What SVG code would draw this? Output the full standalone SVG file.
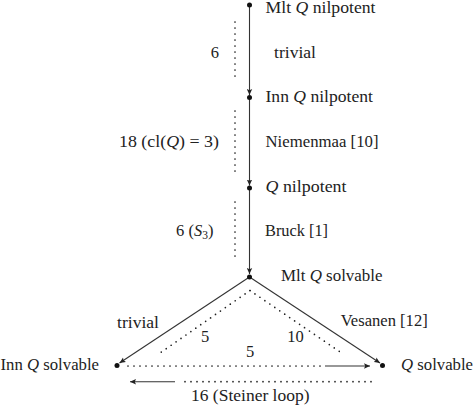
<svg xmlns="http://www.w3.org/2000/svg" width="474" height="405" viewBox="0 0 474 405">
<style>
text{font-family:"Liberation Serif","DejaVu Serif",serif;font-size:16.5px;fill:#222}
.i{font-style:italic}
.s{stroke:#333;stroke-width:1.1;fill:none}
.d{stroke:#222;stroke-width:1.7;fill:none;stroke-dasharray:0 6;stroke-linecap:round}
.n{fill:#111}
</style>
<defs>
<marker id="a" markerUnits="userSpaceOnUse" markerWidth="8" markerHeight="6" refX="6" refY="3" orient="auto">
<path d="M0,0.3 L6,3 L0,5.7 L1.2,3 Z" fill="#222"/>
</marker>
</defs>
<rect width="474" height="405" fill="#fff"/>
<g id="connectors">
<line class="s" x1="249.5" y1="5" x2="249.5" y2="95" marker-end="url(#a)"/>
<line class="s" x1="249.5" y1="97.5" x2="249.5" y2="185.5" marker-end="url(#a)"/>
<line class="s" x1="249.5" y1="188" x2="249.5" y2="274" marker-end="url(#a)"/>
<line class="s" x1="249.5" y1="277" x2="119.5" y2="363" marker-end="url(#a)"/>
<line class="s" x1="249.5" y1="277" x2="380" y2="363" marker-end="url(#a)"/>
<line class="d" x1="235" y1="22" x2="235" y2="82"/>
<line class="d" x1="235" y1="111" x2="235" y2="172"/>
<line class="d" x1="235" y1="202" x2="235" y2="262"/>
<line class="d" x1="250" y1="290.5" x2="160" y2="353"/>
<line class="d" x1="250" y1="290.5" x2="341.7" y2="353"/>
<line class="d" x1="128" y1="366" x2="322" y2="366"/>
<line class="s" x1="325" y1="366" x2="370" y2="366" marker-end="url(#a)"/>
<line class="d" x1="371" y1="381.7" x2="179" y2="381.7"/>
<line class="s" x1="175" y1="381.7" x2="130" y2="381.7" marker-end="url(#a)"/>
</g>
<g id="n1"><circle class="n" cx="249.5" cy="5" r="2.5"/><text x="265.5" y="12.5" textLength="110" lengthAdjust="spacingAndGlyphs">Mlt <tspan class="i">Q</tspan> nilpotent</text></g>
<g id="n2"><circle class="n" cx="249.5" cy="97.5" r="2.5"/><text x="265.5" y="102" textLength="107.5" lengthAdjust="spacingAndGlyphs">Inn <tspan class="i">Q</tspan> nilpotent</text></g>
<g id="n3"><circle class="n" cx="249.5" cy="188" r="2.5"/><text x="265.5" y="192" textLength="81" lengthAdjust="spacingAndGlyphs"><tspan class="i">Q</tspan> nilpotent</text></g>
<g id="n4"><circle class="n" cx="249.5" cy="277" r="2.5"/><text x="281" y="281" textLength="101.5" lengthAdjust="spacingAndGlyphs">Mlt <tspan class="i">Q</tspan> solvable</text></g>
<g id="n5"><circle class="n" cx="117" cy="365.5" r="2.5"/><text x="0.5" y="370" textLength="98.5" lengthAdjust="spacingAndGlyphs">Inn <tspan class="i">Q</tspan> solvable</text></g>
<g id="n6"><circle class="n" cx="382.5" cy="365.5" r="2.5"/><text x="401" y="370" textLength="72" lengthAdjust="spacingAndGlyphs"><tspan class="i">Q</tspan> solvable</text></g>
<g id="labels">
<text x="274" y="57.5" textLength="42" lengthAdjust="spacingAndGlyphs">trivial</text>
<text x="219" y="57.5" text-anchor="end">6</text>
<text x="119" y="147" textLength="100" lengthAdjust="spacingAndGlyphs">18 (cl(<tspan class="i">Q</tspan>) = 3)</text>
<text x="265.5" y="147" textLength="113" lengthAdjust="spacingAndGlyphs">Niemenmaa [10]</text>
<text x="176" y="236">6 (<tspan class="i">S</tspan><tspan font-size="11.5" dy="3">3</tspan><tspan dy="-3">)</tspan></text>
<text x="265" y="236" textLength="63" lengthAdjust="spacingAndGlyphs">Bruck [1]</text>
<text x="117" y="327.5" textLength="42" lengthAdjust="spacingAndGlyphs">trivial</text>
<text x="340.7" y="326" textLength="87" lengthAdjust="spacingAndGlyphs">Vesanen [12]</text>
<text x="205" y="342" text-anchor="middle">5</text>
<text x="295.5" y="342" text-anchor="middle">10</text>
<text x="250" y="357" text-anchor="middle">5</text>
<text x="191" y="401" textLength="118.5" lengthAdjust="spacingAndGlyphs">16 (Steiner loop)</text>
</g>
</svg>
